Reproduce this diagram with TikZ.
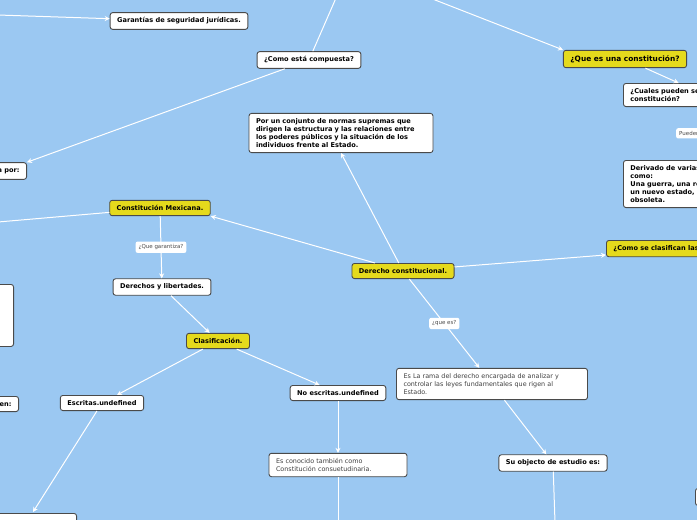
\documentclass[tikz,border=0pt]{standalone}
\usepackage{fontspec}
\setmainfont{DejaVu Sans}
\usetikzlibrary{arrows.meta}
\definecolor{bg}{HTML}{9BC8F2}
\definecolor{yel}{HTML}{E5DA1C}
\definecolor{bd}{HTML}{4A4A4A}
\tikzset{
 box/.style={draw=bd,line width=0.9pt,rounded corners=2.5pt,fill=white,font=\fontsize{6.6}{8}\selectfont\bfseries,inner xsep=7pt,inner ysep=5pt,align=left},
 ybox/.style={box,fill=yel},
 tbox/.style={box,font=\fontsize{6.4}{8.2}\selectfont,text=black!75},
 lbl/.style={fill=white,rounded corners=2pt,font=\fontsize{5.5}{6}\selectfont,text=black!70,inner sep=3pt},
 con/.style={draw=white,line width=1pt},
 arr/.style={con,-{Stealth[length=5pt,width=5pt]}}
}
\begin{document}
\begin{tikzpicture}[x=1pt,y=-1pt]
\useasboundingbox (0,0) rectangle (697,520);
\fill[bg] (0,0) rectangle (697,520);
\clip (0,0) rectangle (697,520);
\coordinate (t1) at (336,-2);
\coordinate (t2) at (430,-2);
\coordinate (l1) at (-2,15);
\coordinate (l2) at (-2,222);
\coordinate (b1) at (338,522);
\coordinate (b2) at (555,522);
\coordinate (bt) at (33,512);
\node[box] (gar) at (179,21) {Garantías de seguridad jurídicas.};
\node[box] (comp) at (309,60) {¿Como está compuesta?};
\node[box,text width=170pt] (conj) at (341,133) {Por un conjunto de normas supremas que\\dirigen la estructura y las relaciones entre\\los poderes públicos y la situación de los\\individuos frente al Estado.};
\node[box,anchor=east] (por) at (27,171) {Está compuesta por:};
\node[ybox] (mex) at (160,208) {Constitución Mexicana.};
\node[box] (der) at (162,287) {Derechos y libertades.};
\node[ybox] (cla) at (218,341) {Clasificación.};
\node[box] (esc) at (102,403) {Escritas.undefined};
\node[box] (noe) at (338,393) {No escritas.undefined};
\node[tbox,text width=124pt] (con) at (338,465) {Es conocido también como\\Constitución consuetudinaria.};
\node[tbox,anchor=north east,minimum height=62pt,text width=60pt] (lb) at (14,284) {};
\node[box,anchor=east] (en) at (19,404) {Se dividen en:};
\node[box,anchor=north east,minimum height=20pt,minimum width=120pt] (bl) at (77,513) {};
\node[ybox] (dc) at (403,271) {Derecho constitucional.};
\node[tbox,text width=177pt] (rama) at (492,384) {Es La rama del derecho encargada de analizar y\\controlar las leyes fundamentales que rigen al\\Estado.};
\node[box] (obj) at (553,463) {Su objecto de estudio es:};
\node[ybox,font=\fontsize{7.4}{9}\selectfont\bfseries] (que) at (625,59) {¿Que es una constitución?};
\node[box,anchor=north west,text width=150pt] (cual) at (623,83) {¿Cuales pueden ser las causas de una\\constitución?};
\node[lbl,anchor=north west] (pued) at (676,128) {Pueden ser};
\node[box,anchor=north west,text width=110pt] (deri) at (623,160) {Derivado de varias causas\\como:\\Una guerra, una revolución,\\un nuevo estado, o ser\\obsoleta.};
\node[ybox,anchor=north west] (clas) at (606,240) {¿Como se clasifican las constituciones?};
\node[box,anchor=north west,minimum height=17pt,minimum width=40pt] (br) at (695,488) {};
\draw[con] (t1) -- (comp);
\draw[arr] (t2) -- (que.north west |- que.north);
\draw[arr] (l1) -- (gar);
\draw[arr] (comp) -- (por.north east);
\draw[arr] (dc) -- (conj.south);
\draw[arr] (dc) -- (mex.south east);
\draw[con] (mex) -- (l2);
\draw[arr] (mex) -- node[lbl]{¿Que garantiza?} (der);
\draw[arr] (der) -- (cla);
\draw[arr] (cla) -- (esc);
\draw[arr] (cla) -- (noe);
\draw[arr] (esc) -- (bt);
\draw[arr] (noe) -- (con);
\draw[con] (con) -- (b1);
\draw[arr] (dc) -- (clas);
\draw[arr] (dc) -- node[lbl]{¿que es?} (rama);
\draw[arr] (rama) -- (obj);
\draw[con] (obj) -- (b2);
\draw[arr] (que) -- (cual);
\end{tikzpicture}
\end{document}
